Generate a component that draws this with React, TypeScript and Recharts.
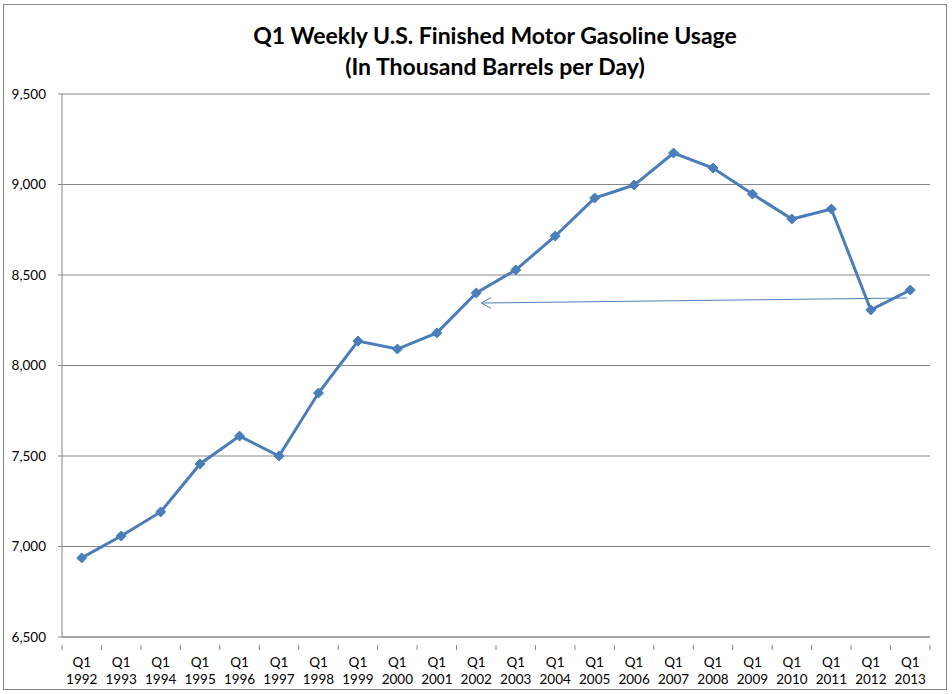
import React from "react";
import {
  CartesianGrid,
  Line,
  LineChart,
  ReferenceLine,
  XAxis,
  YAxis,
} from "recharts";

const YEARS = [
  "1992", "1993", "1994", "1995", "1996", "1997", "1998", "1999", "2000", "2001", "2002",
  "2003", "2004", "2005", "2006", "2007", "2008", "2009", "2010", "2011", "2012", "2013",
];
const USAGE = [
  6937, 7058, 7191, 7456, 7610, 7500, 7848, 8135, 8091, 8180, 8401,
  8528, 8715, 8925, 8997, 9174, 9091, 8947, 8809, 8865, 8307, 8417,
];
const Y_TICKS = [6500, 7000, 7500, 8000, 8500, 9000, 9500];
const ARROW_FROM = { x: "Q1 2013", y: 8373 };
const ARROW_TO = { x: "Q1 2002", y: 8345 };

const data = YEARS.map((y, i) => ({ label: `Q1 ${y}`, value: USAGE[i] }));

const FONT = "Lato, 'Open Sans', sans-serif";
const GRID = "#868686";
const BLUE = "#4a7ebb";
const BAND = 868 / YEARS.length;

function XTick(props: any) {
  const { x, y, payload, index } = props;
  const [q, yr] = String(payload.value).split(" ");
  const last = index === YEARS.length - 1;
  return (
    <g>
      <line x1={x - BAND / 2} x2={x - BAND / 2} y1={y} y2={y + 5} stroke={GRID} />
      {last && <line x1={x + BAND / 2} x2={x + BAND / 2} y1={y} y2={y + 5} stroke={GRID} />}
      <text x={x} y={y + 22} textAnchor="middle" fontSize={13.5} fill="#000" fontFamily={FONT}>
        {q}
      </text>
      <text x={x} y={y + 39} textAnchor="middle" fontSize={13.5} fill="#000" fontFamily={FONT}>
        {yr}
      </text>
    </g>
  );
}

function Diamond(props: any) {
  const { cx, cy } = props;
  if (cx == null || cy == null) return null;
  const r = 5;
  return (
    <path
      d={`M${cx},${cy - r}L${cx + r},${cy}L${cx},${cy + r}L${cx - r},${cy}Z`}
      fill={BLUE}
      stroke={BLUE}
    />
  );
}

function Arrow(props: any) {
  const { x1, y1, x2, y2 } = props;
  if (x1 == null) return null;
  const ang = Math.atan2(y2 - y1, x2 - x1);
  const len = 11;
  const spread = 0.5;
  const ax = x2 - len * Math.cos(ang - spread);
  const ay = y2 - len * Math.sin(ang - spread);
  const bx = x2 - len * Math.cos(ang + spread);
  const by = y2 - len * Math.sin(ang + spread);
  return (
    <g stroke="#4f81bd" strokeWidth={1} fill="none">
      <line x1={x1 - 3} y1={y1} x2={x2 + 5} y2={y2} />
      <path d={`M${ax + 5},${ay}L${x2 + 5},${y2}L${bx + 5},${by}`} />
    </g>
  );
}

export default function App() {
  return (
    <div style={{ position: "absolute", left: 0, top: 0, width: 952, height: 694, background: "#fff" }}>
      <div
        style={{
          position: "absolute",
          left: 3,
          top: 4,
          width: 942,
          height: 684,
          border: `1px solid ${GRID}`,
        }}
      />
      <div
        style={{
          position: "absolute",
          left: 0,
          top: 20,
          width: 990,
          textAlign: "center",
          fontFamily: FONT,
          fontWeight: 700,
          fontSize: 23,
          lineHeight: "31px",
          color: "#000",
        }}
      >
        Q1 Weekly U.S. Finished Motor Gasoline Usage
        <br />
        (In Thousand Barrels per Day)
      </div>
      <LineChart
        width={952}
        height={694}
        data={data}
        margin={{ top: 94, right: 22, bottom: 0, left: 0 }}
        style={{ position: "absolute", left: 0, top: 0 }}
      >
        <CartesianGrid vertical={false} stroke={GRID} strokeDasharray="" />
        <XAxis
          dataKey="label"
          interval={0}
          height={57}
          padding={{ left: BAND / 2, right: BAND / 2 }}
          axisLine={{ stroke: GRID }}
          tickLine={false}
          tick={<XTick />}
        />
        <YAxis
          domain={[6500, 9500]}
          ticks={Y_TICKS}
          width={62}
          axisLine={{ stroke: GRID }}
          tickLine={{ stroke: GRID }}
          tickSize={4}
          tickMargin={12}
          tickFormatter={(v: number) => v.toLocaleString("en-US")}
          tick={{ fontSize: 13.5, fill: "#000", fontFamily: FONT }}
        />
        <ReferenceLine
          segment={[ARROW_FROM, ARROW_TO]}
          stroke="#4f81bd"
          shape={<Arrow />}
        />
        <Line
          type="linear"
          dataKey="value"
          stroke={BLUE}
          strokeWidth={3}
          dot={<Diamond />}
          activeDot={false}
          isAnimationActive={false}
        />
      </LineChart>
    </div>
  );
}
